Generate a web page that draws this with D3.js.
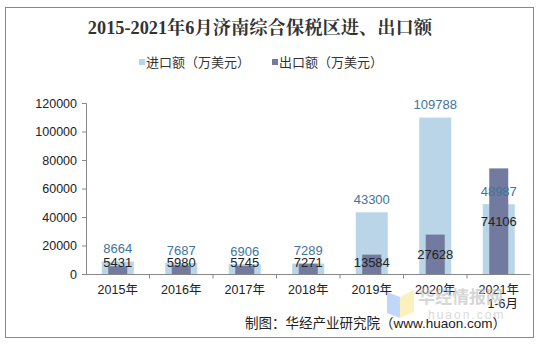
<!DOCTYPE html>
<html><head><meta charset="utf-8">
<script src="https://cdn.jsdelivr.net/npm/d3@7"></script>
<style>body{margin:0;background:#fff}svg{display:block}</style>
</head><body>
<script>
const categories = ["2015年","2016年","2017年","2018年","2019年","2020年","2021年\n1-6月"];
const importValues = [8664,7687,6906,7289,43300,109788,48987];
const exportValues = [5431,5980,5745,7271,13584,27628,74106];
const yTicks = [0,20000,40000,60000,80000,100000,120000];
const seriesNames = ["进口额（万美元）","出口额（万美元）"];
const title = "2015-2021年6月济南综合保税区进、出口额";
const source = "制图：华经产业研究院（www.huaon.com）";

const W=543,H=344;
const svg=d3.select("body").append("svg").attr("width",W).attr("height",H);
const sans="Liberation Sans, Arial, Noto Sans CJK SC, sans-serif";
svg.append("rect").attr("x",5.5).attr("y",7.5).attr("width",528).attr("height",330)
  .attr("fill","#fff").attr("stroke","#888").attr("stroke-width",1);

const x=d3.scaleBand().domain(categories).range([86,530.5]);
const y=d3.scaleLinear().domain([0,120000]).range([274,103]);

svg.append("text").attr("x",260).attr("y",34).attr("text-anchor","middle")
  .attr("font-family","Liberation Serif, Noto Serif CJK SC, Noto Sans CJK SC, serif").attr("font-weight","bold")
  .attr("font-size",18.3).attr("fill","#333").text(title);

// legend
const lg=[{c:"#b9d5e7",x:139},{c:"#737a9f",x:272}];
lg.forEach((l,i)=>{
  svg.append("rect").attr("x",l.x).attr("y",59).attr("width",6).attr("height",6).attr("fill",l.c);
  svg.append("text").attr("x",l.x+7).attr("y",67).attr("font-family",sans).attr("font-size",13)
    .attr("fill","#333").text(seriesNames[i]);
});

// bars
const bw=x.bandwidth();
svg.selectAll(".imp").data(categories).enter().append("rect")
  .attr("x",d=>x(d)+bw/2-16).attr("width",32)
  .attr("y",(d,i)=>y(importValues[i])).attr("height",(d,i)=>y(0)-y(importValues[i]))
  .attr("fill","#b9d5e7");
svg.selectAll(".exp").data(categories).enter().append("rect")
  .attr("x",d=>x(d)+bw/2-9.5).attr("width",19)
  .attr("y",(d,i)=>y(exportValues[i])).attr("height",(d,i)=>y(0)-y(exportValues[i]))
  .attr("fill","#737a9f");

// labels
svg.selectAll(".il").data(categories).enter().append("text")
  .attr("x",d=>x(d)+bw/2).attr("y",(d,i)=>y(importValues[i])-8.5)
  .attr("text-anchor","middle").attr("font-family",sans).attr("font-size",13)
  .attr("fill","#41749c").text((d,i)=>importValues[i]);
svg.selectAll(".el").data(categories).enter().append("text")
  .attr("x",d=>x(d)+bw/2).attr("y",(d,i)=>Math.min(y(exportValues[i]/2),y(0)-12)+4.5)
  .attr("text-anchor","middle").attr("font-family",sans).attr("font-size",13)
  .attr("fill","#222").text((d,i)=>exportValues[i]);

// y axis
const ya=svg.append("g").attr("transform","translate(86,0)")
  .call(d3.axisLeft(y).tickValues(yTicks).tickSize(4).tickPadding(5).tickFormat(d3.format("d")));
ya.selectAll("path,line").attr("stroke","#888");
ya.selectAll("text").attr("font-family",sans).attr("font-size",12.5).attr("fill","#222");

// x axis
const xa=svg.append("g").attr("transform","translate(0,274.5)");
xa.append("line").attr("x1",86).attr("x2",530.5).attr("stroke","#888");
categories.forEach((c,i)=>{
  const bx=x(c)+bw;
  if(i<categories.length-1) xa.append("line").attr("x1",bx).attr("x2",bx).attr("y1",0).attr("y2",4).attr("stroke","#888");
});
categories.forEach(c=>{
  const lines=c.split("\n");
  lines.forEach((t,j)=>{
    xa.append("text").attr("x",x(c)+bw/2+(j?4:0)).attr("y",19+j*14).attr("text-anchor","middle")
      .attr("font-family",sans).attr("font-size",12.5).attr("fill","#222").text(t);
  });
});

// watermark
const wm=svg.append("g").attr("opacity",0.55);
wm.append("path").attr("d","M387,292 L400,297 L400,318 L387,313 Z").attr("fill","#8fb8f5");
wm.append("path").attr("d","M400,297 L414,290 L414,312 L400,318 Z").attr("fill","#fbe48a");
svg.append("text").attr("x",418).attr("y",303).attr("font-family",sans).attr("font-weight","bold")
  .attr("font-size",17).attr("fill","#bbb").attr("opacity",0.6).text("华经情报网");
svg.append("text").attr("x",428).attr("y",319).attr("font-family",sans)
  .attr("font-size",12).attr("fill","#ccc").attr("letter-spacing",2).attr("opacity",0.7).text("huaon.com");

svg.append("text").attr("x",245).attr("y",328).attr("font-family",sans).attr("font-size",13.5)
  .attr("fill","#222").text(source);
</script>
</body></html>
